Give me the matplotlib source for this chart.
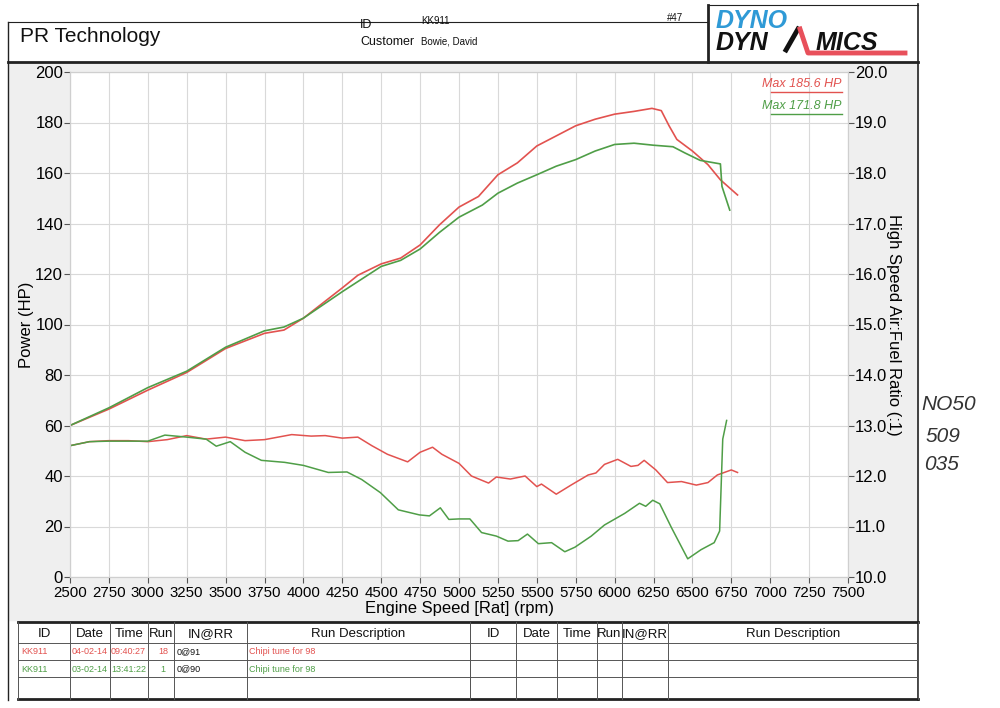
import matplotlib
matplotlib.use("Agg")
import matplotlib.pyplot as plt
from matplotlib.lines import Line2D
from matplotlib.patches import Rectangle

plt.rcParams['font.family'] = ['Liberation Sans', 'DejaVu Sans']

# ---- data ----
red_pwr_rpm = [2500, 2750, 3000, 3250, 3500, 3750, 3875, 4000, 4250, 4350, 4500, 4625, 4750,
               4875, 5000, 5125, 5250, 5375, 5500, 5625, 5750, 5875, 6000, 6125, 6240, 6300,
               6350, 6400, 6500, 6600, 6680, 6790]
red_pwr = [60, 66.5, 74, 81, 90.5, 96.5, 97.8, 102.5, 114.5, 119.5, 124, 126.3, 131.5,
           139.5, 146.5, 150.7, 159.3, 164, 170.7, 174.7, 178.7, 181.3, 183.3, 184.4, 185.6, 184.7,
           178.7, 173.3, 168.7, 163.3, 157.3, 151.3]

green_pwr_rpm = [2500, 2750, 3000, 3250, 3500, 3750, 3875, 4000, 4250, 4500, 4625, 4750, 4875,
                 5000, 5150, 5250, 5375, 5500, 5625, 5750, 5875, 6000, 6125, 6250, 6375, 6450,
                 6550, 6680, 6690, 6740]
green_pwr = [60, 67, 75, 81.5, 91, 97.5, 99, 102.5, 113, 123, 125.4, 129.9, 136.5,
             142.5, 147.3, 152, 156, 159.3, 162.7, 165.3, 168.7, 171.3, 171.8, 171, 170.4, 168,
             165, 163.6, 154.7, 145.3]

red_afr_rpm = [2500, 2625, 2750, 2875, 3000, 3125, 3250, 3375, 3500, 3625, 3750, 3925, 4050,
               4140, 4250, 4350, 4440, 4540, 4670, 4750, 4830, 4890, 5000, 5080, 5190, 5240,
               5330, 5425, 5500, 5530, 5625, 5720, 5830, 5880, 5935, 6020, 6105, 6150, 6190,
               6265, 6340, 6430, 6525, 6600, 6660, 6750, 6790]
red_afr = [12.6, 12.68, 12.7, 12.7, 12.68, 12.72, 12.8, 12.73, 12.77, 12.7, 12.72, 12.82, 12.79,
           12.8, 12.75, 12.77, 12.6, 12.43, 12.28, 12.47, 12.57, 12.43, 12.25, 12.0, 11.86, 11.98,
           11.94, 12.0, 11.79, 11.84, 11.64, 11.82, 12.02, 12.06, 12.23, 12.33, 12.19, 12.21, 12.31,
           12.12, 11.87, 11.89, 11.82, 11.87, 12.02, 12.12, 12.07]

green_afr_rpm = [2500, 2625, 2750, 2875, 3000, 3110, 3250, 3375, 3440, 3530, 3625, 3730, 3880,
                 4000, 4160, 4280, 4375, 4495, 4610, 4745, 4810, 4880, 4935, 5000, 5070, 5145,
                 5240, 5315, 5380, 5440, 5510, 5595, 5680, 5745, 5850, 5935, 6065, 6160, 6200,
                 6245, 6290, 6365, 6470, 6555, 6640, 6675, 6695, 6720]
green_afr = [12.6, 12.68, 12.69, 12.69, 12.69, 12.81, 12.77, 12.73, 12.59, 12.68, 12.47, 12.31, 12.27,
             12.21, 12.07, 12.08, 11.93, 11.67, 11.33, 11.23, 11.21, 11.37, 11.14, 11.15, 11.15, 10.88,
             10.81, 10.71, 10.72, 10.85, 10.66, 10.68, 10.5, 10.59, 10.81, 11.03, 11.26, 11.46, 11.4,
             11.52, 11.45, 10.98, 10.36, 10.54, 10.68, 10.91, 12.73, 13.1]

max_labels = ["Max 185.6 HP", "Max 171.8 HP"]
x_ticks = list(range(2500, 7501, 250))
hp_ticks = list(range(0, 201, 20))
afr_ticks = [10.0, 11.0, 12.0, 13.0, 14.0, 15.0, 16.0, 17.0, 18.0, 19.0, 20.0]

table_cols = ["ID", "Date", "Time", "Run", "IN@RR", "Run Description"]
run_rows = [["KK911", "04-02-14", "09:40:27", "18", "0@91", "Chipi tune for 98"],
            ["KK911", "03-02-14", "13:41:22", "1", "0@90", "Chipi tune for 98"]]

RED = '#e2524f'
GREEN = '#4f9e47'

W, H = 1000, 708
fig = plt.figure(figsize=(10, 7.08), dpi=100)


def fx(x):
    return x / W


def fy(y):
    return 1 - y / H


def fline(xs, ys, lw=1.0, color='#222222', **kw):
    fig.add_artist(Line2D([fx(v) for v in xs], [fy(v) for v in ys], lw=lw, color=color,
                          transform=fig.transFigure, **kw))


# chart panel background
fig.add_artist(Rectangle((fx(8), fy(620)), fx(918) - fx(8), fy(62) - fy(620),
                         transform=fig.transFigure, color='#efefef', zorder=0))

ax = fig.add_axes([fx(70), fy(577), fx(848) - fx(70), fy(72) - fy(577)])
ax.set_facecolor('white')
ax.plot(red_pwr_rpm, red_pwr, color=RED, lw=1.2)
ax.plot(green_pwr_rpm, green_pwr, color=GREEN, lw=1.2)
ax.set_xlim(2500, 7500)
ax.set_ylim(0, 200)
ax.set_xticks(x_ticks)
ax.set_yticks(hp_ticks)
ax.grid(True, color='#d9d9d9', lw=0.8)
ax.set_axisbelow(True)
ax.tick_params(axis='y', labelsize=12, length=4, color='#555555', pad=1)
ax.tick_params(axis='x', labelsize=10.8, length=4, color='#555555', pad=2.5)
for s in ax.spines.values():
    s.set_color('#cfcfcf')
ax.set_ylabel('Power (HP)', fontsize=12, labelpad=1)
ax.set_xlabel('Engine Speed [Rat] (rpm)', fontsize=12, labelpad=1)

ax2 = ax.twinx()
ax2.plot(red_afr_rpm, red_afr, color=RED, lw=1.1)
ax2.plot(green_afr_rpm, green_afr, color=GREEN, lw=1.1)
ax2.set_ylim(10, 20)
ax2.set_yticks(afr_ticks)
ax2.set_yticklabels([f"{t:.1f}" for t in afr_ticks])
ax2.tick_params(labelsize=12, length=4, color='#555555', pad=1)
for s in ax2.spines.values():
    s.set_color('#cfcfcf')
ax2.set_ylabel('High Speed Air:Fuel Ratio (:1)', fontsize=12, rotation=-90, labelpad=10)

# max labels with underline
for i, (txt, c) in enumerate(zip(max_labels, [RED, GREEN])):
    yy = 84 + i * 22
    fig.text(fx(842), fy(yy), txt, color=c, fontsize=9, style='italic', ha='right',
             va='center')
    fline([771, 842], [yy + 8, yy + 8], lw=1.0, color=c)

# header
fig.text(fx(20), fy(37), 'PR Technology', fontsize=15, va='center', ha='left', color='#111111')
fig.text(fx(360), fy(25), 'ID', fontsize=9, va='center', color='#111111')
fig.text(fx(360), fy(42), 'Customer', fontsize=9, va='center', color='#111111')
fig.text(fx(421), fy(21), 'KK911', fontsize=7, va='center', color='#111111')
fig.text(fx(421), fy(41), 'Bowie, David', fontsize=7, va='center', color='#111111')
fig.text(fx(667), fy(18), '#47', fontsize=7, va='center', color='#111111')

fline([8, 708], [22, 22], lw=0.8)
fline([8, 918], [62, 62], lw=2.0)
fline([8, 8], [22, 700], lw=1.0)
fline([918, 918], [4, 700], lw=1.2)
fline([708, 708], [5, 62], lw=2.0)
fline([708, 918], [5, 5], lw=0.8)

# logo
fig.text(fx(716), fy(28), 'DYNO', fontsize=18, weight='heavy', style='italic',
         color='#2f9ad6', va='baseline', ha='left')
fig.text(fx(716), fy(50), 'DYN', fontsize=18, weight='heavy', style='italic',
         color='#111111', va='baseline', ha='left')
fig.text(fx(816), fy(50), 'MICS', fontsize=18, weight='heavy', style='italic',
         color='#111111', va='baseline', ha='left')
fline([786, 798], [50, 29], lw=3.5, color='#111111')
fline([800, 808, 905], [29, 53, 53], lw=3.5, color='#e8505b')

# run table
fline([18, 918], [622, 622], lw=2.0)
fline([18, 918], [643, 643], lw=0.7, color='#555555')
fline([18, 918], [660, 660], lw=0.7, color='#555555')
fline([18, 918], [677, 677], lw=0.7, color='#555555')
fline([18, 918], [699, 699], lw=2.0)
col_edges_left = [18, 70, 110, 148, 174, 247, 470]
col_edges_right = [470, 516, 557, 597, 622, 668, 918]
for e in col_edges_left + col_edges_right:
    fline([e, e], [622, 699], lw=0.7, color='#555555')
for edges in (col_edges_left, col_edges_right):
    for j, name in enumerate(table_cols):
        fig.text(fx((edges[j] + edges[j + 1]) / 2), fy(634), name, fontsize=9.5,
                 ha='center', va='center', color='#111111')
cell_x = [21, 72, 111, 0, 177, 249]
for r, (row, c) in enumerate(zip(run_rows, [RED, GREEN])):
    yy = 652 + r * 17
    for j, val in enumerate(row):
        if j == 3:
            fig.text(fx(163), fy(yy), val, fontsize=6.5, color=c, ha='center', va='center')
        elif j == 4:
            fig.text(fx(cell_x[j]), fy(yy), val, fontsize=6.5, color='#111111', va='center')
        else:
            fig.text(fx(cell_x[j]), fy(yy), val, fontsize=6.5, color=c, va='center')

# handwritten note
for txt, (hx, hy) in zip(['NO50', '509', '035'], [(921, 405), (926, 437), (924, 465)]):
    fig.text(fx(hx), fy(hy), txt, fontsize=15, color='#333333', va='center',
             style='italic', weight='light')

fig.savefig('out.png', dpi=100)
